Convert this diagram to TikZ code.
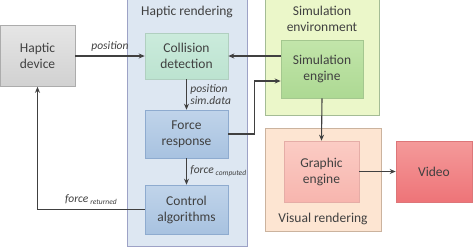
\documentclass[tikz,border=0pt]{standalone}
\usepackage{fontspec}
\setmainfont{Carlito}
\usetikzlibrary{arrows.meta}

\definecolor{ink}{HTML}{404040}
\definecolor{hapticpanel}{HTML}{DDE7F2}
\definecolor{simpanel}{HTML}{EBF7C9}
\definecolor{vispanel}{HTML}{FDE5D2}
\definecolor{forcetop}{HTML}{C0D4EA}
\definecolor{forcebot}{HTML}{A8C2E0}
\definecolor{forceline}{HTML}{8EABCF}
\definecolor{colltop}{HTML}{CBEBDC}
\definecolor{collbot}{HTML}{BCE3D0}
\definecolor{simtop}{HTML}{C2E5AA}
\definecolor{simbot}{HTML}{ADD993}
\definecolor{gratop}{HTML}{FBCCC4}
\definecolor{grabot}{HTML}{F7B5AE}
\definecolor{vidtop}{HTML}{F49A9A}
\definecolor{vidbot}{HTML}{EE7478}

\begin{document}
\begin{tikzpicture}[x=1pt, y=-1pt, thick,
  box/.style={draw, rectangle, align=center, text=ink, line width=0.6pt,
    font=\fontsize{13.5}{16}\selectfont},
  panel/.style={line width=0.6pt},
  lbl/.style={text=ink, font=\fontsize{11.5}{12.5}\selectfont\itshape},
  flow/.style={draw=ink, line width=1.1pt, -{Stealth[length=6pt, width=5pt]}}]

  \useasboundingbox (0,0) rectangle (474,247);

  % -- Panels --
  \draw[panel, fill=hapticpanel, draw=hapticpanel!80!blue!60!gray] (127,-2) rectangle (247,246);
  \draw[panel, fill=simpanel, draw=simpanel!85!green!50!gray] (265,-2) rectangle (379,115);
  \draw[panel, fill=vispanel, draw=vispanel!85!orange!60!gray] (265,128) rectangle (381,231);

  \node[text=ink, font=\fontsize{13.5}{16}\selectfont] (hapticlbl) at (187,12) {Haptic rendering};
  \node[text=ink, align=center, font=\fontsize{13.5}{16}\selectfont] (simlbl) at (322,19) {Simulation\\environment};
  \node[text=ink, font=\fontsize{13.5}{16}\selectfont] (vislbl) at (323,219) {Visual rendering};

  % -- Blocks --
  \node[box, minimum width=75pt, minimum height=61pt, draw=gray!65,
    top color=gray!20, bottom color=gray!36] (device) at (37.5,56) {Haptic\\device};
  \node[box, minimum width=83pt, minimum height=46pt, draw=collbot!80!gray,
    top color=colltop, bottom color=collbot] (collision) at (186.5,56) {Collision\\detection};
  \node[box, minimum width=83pt, minimum height=48pt, draw=forceline,
    top color=forcetop, bottom color=forcebot] (force) at (186.5,134) {Force\\response};
  \node[box, minimum width=83pt, minimum height=49pt, draw=forceline,
    top color=forcetop, bottom color=forcebot] (control) at (186.5,209.5) {Control\\algorithms};
  \node[box, minimum width=82pt, minimum height=58pt, draw=simbot!80!gray,
    top color=simtop, bottom color=simbot] (simeng) at (322,69) {Simulation\\engine};
  \node[box, minimum width=75pt, minimum height=61pt, draw=grabot!85!gray,
    top color=gratop, bottom color=grabot] (graphic) at (321.5,171.5) {Graphic\\engine};
  \node[box, minimum width=76pt, minimum height=61pt, draw=vidbot!85!gray,
    top color=vidtop, bottom color=vidbot] (video) at (434,171.5) {Video};

  % -- Connectors --
  \draw[flow] (device.east) -- node[lbl, above=1pt] (poslbl) {position} (collision.west);
  \draw[flow] (simeng.west |- collision.east) -- (collision.east);
  \draw[flow] (collision.south) -- node[lbl, right, align=left, font=\fontsize{11.5}{12}\selectfont\itshape] (simdatalbl) {position\\sim.data} (force.north);
  \draw[flow] (force.east) -- ++(26,0) |- ([yshift=-12pt]simeng.west);
  \draw[flow] (force.south) -- node[lbl, right] (forcecomp) {force\,$_{\textit{\fontsize{7.5}{8}\selectfont computed}}$} (control.north);
  \draw[flow] (control.west) -| node[lbl, pos=0.25, above=1pt] (forceret) {force\,$_{\textit{\fontsize{7.5}{8}\selectfont returned}}$} (device.south);
  \draw[flow] (simeng.south) -- (graphic.north);
  \draw[flow] (graphic.east) -- (video.west);

\end{tikzpicture}
\end{document}
